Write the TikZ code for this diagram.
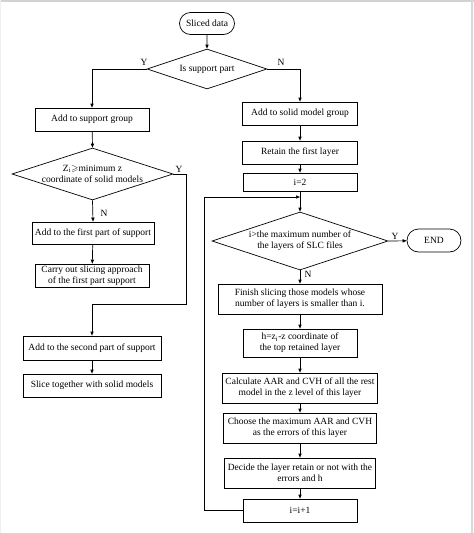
\documentclass[tikz,border=0pt]{standalone}
\usepackage{fontspec}
\usepackage{amssymb}
\setmainfont{Liberation Serif}
\usetikzlibrary{arrows.meta,shapes.geometric,shapes.misc}
\begin{document}
\begin{tikzpicture}[x=1pt,y=-1pt,
  every node/.style={font=\fontsize{9.5}{11}\selectfont},
  box/.style={draw, line width=0.7pt, rectangle, inner sep=1pt, align=center, minimum height=23pt},
  term/.style={draw, line width=0.7pt, rounded rectangle, inner sep=1pt, minimum height=22pt},
  dia/.style={draw, line width=0.7pt, diamond, inner sep=0pt},
  lab/.style={inner sep=0pt, align=center},
  conn/.style={line width=0.7pt, -{Triangle[length=4pt,width=3.2pt]}},
  plain/.style={line width=0.7pt}
]
\useasboundingbox (0,0) rectangle (474,533);
% faint frame
\fill[gray!35] (0,0) rectangle (474,2.2);
\draw[gray!30, line width=1.2pt] (472,0) -- (472,533);
\draw[gray!12, line width=1pt] (0.5,0) -- (0.5,533);

% top
\node[term, minimum width=57pt] (s) at (207,23.5) {Sliced data};
\node[dia, minimum width=120pt, minimum height=40pt] (d1) at (207,69) {};
\node[lab] (d1t) at (d1) {Is support part};

% left column
\node[box, minimum width=114pt] (sg) at (92,119.5) {Add to support group};
\node[dia, minimum width=161pt, minimum height=52pt] (d2) at (92.5,174) {};
\node[lab] (d2t) at (92.5,174) {Z\textsubscript{i}$\geqslant$minimum z\\coordinate of solid models};
\node[box, minimum width=122pt, minimum height=22pt] (f1) at (93,233) {Add to the first part of support};
\node[box, minimum width=114pt] (f2) at (92,275.5) {Carry out slicing approach\\of the first part support};
\node[box, minimum width=138pt, minimum height=24pt] (s2) at (92,348) {Add to the second part of support};
\node[box, minimum width=138pt] (s3) at (92,385.5) {Slice together with solid models};

% right column
\node[box, minimum width=115pt] (smg) at (300,113.5) {Add to solid model group};
\node[box, minimum width=115pt] (rfl) at (300,152.5) {Retain the first layer};
\node[box, minimum width=114pt, minimum height=18pt] (i2) at (300,182) {i=2};
\node[dia, minimum width=176pt, minimum height=58pt] (d3) at (300,241) {};
\node[lab] (d3t) at (300,241) {i>the maximum number of\\the layers of SLC files};
\node[term, minimum width=56pt, minimum height=23pt] (end) at (434,240.5) {END};
\node[box, minimum width=164pt, minimum height=30pt] (fin) at (300,299) {Finish slicing those models whose\\number of layers is smaller than i.};
\node[box, minimum width=114pt, minimum height=28pt] (h) at (300,343) {h=z\textsubscript{i}-z coordinate of\\the top retained layer};
\node[box, minimum width=155pt, minimum height=30pt] (calc) at (300,388) {Calculate AAR and CVH of all the rest\\model in the z level of this layer};
\node[box, minimum width=153pt, minimum height=30pt] (cho) at (300,428) {Choose the maximum AAR and CVH\\as the errors of this layer};
\node[box, minimum width=151pt, minimum height=30pt] (dec) at (300,473) {Decide the layer retain or not with the\\errors and h};
\node[box, minimum width=114pt] (inc) at (300,510.5) {i=i+1};

\coordinate (c1) at (186,304);
\coordinate (c2) at (204,197);
\coordinate (c3) at (300,197);

% connectors
\draw[conn] (s) -- (d1.north);
\draw[conn] (d1.west) -| (sg.north);
\draw[conn] (d1.east) -| (smg.north);
\draw[conn] (sg) -- (d2.north);
\draw[conn] (d2.south) -- (f1.north);
\draw[conn] (f1) -- (f2);
\draw[conn] (d2.east) -| (c1) -| (s2.north);
\draw[conn] (s2) -- (s3);

\draw[conn] (smg) -- (rfl);
\draw[conn] (rfl) -- (i2);
\draw[conn] (i2) -- (d3.north);
\draw[conn] (d3.east) -- (end);
\draw[conn] (d3.south) -- (fin.north);
\draw[conn] (fin) -- (h);
\draw[conn] (h) -- (calc);
\draw[conn] (calc) -- (cho);
\draw[conn] (cho) -- (dec);
\draw[conn] (dec) -- (inc);
\draw[plain] (inc.west) -| (c2);
\draw[conn] (c2) -- (c3);

% labels
\node[lab] (y1) at (144,62) {Y};
\node[lab] (n1) at (281,62) {N};
\node[lab] (y2) at (179,169) {Y};
\node[lab] (n2) at (104,213) {N};
\node[lab] (y3) at (395,236) {Y};
\node[lab] (n3) at (308,274) {N};
\end{tikzpicture}
\end{document}
